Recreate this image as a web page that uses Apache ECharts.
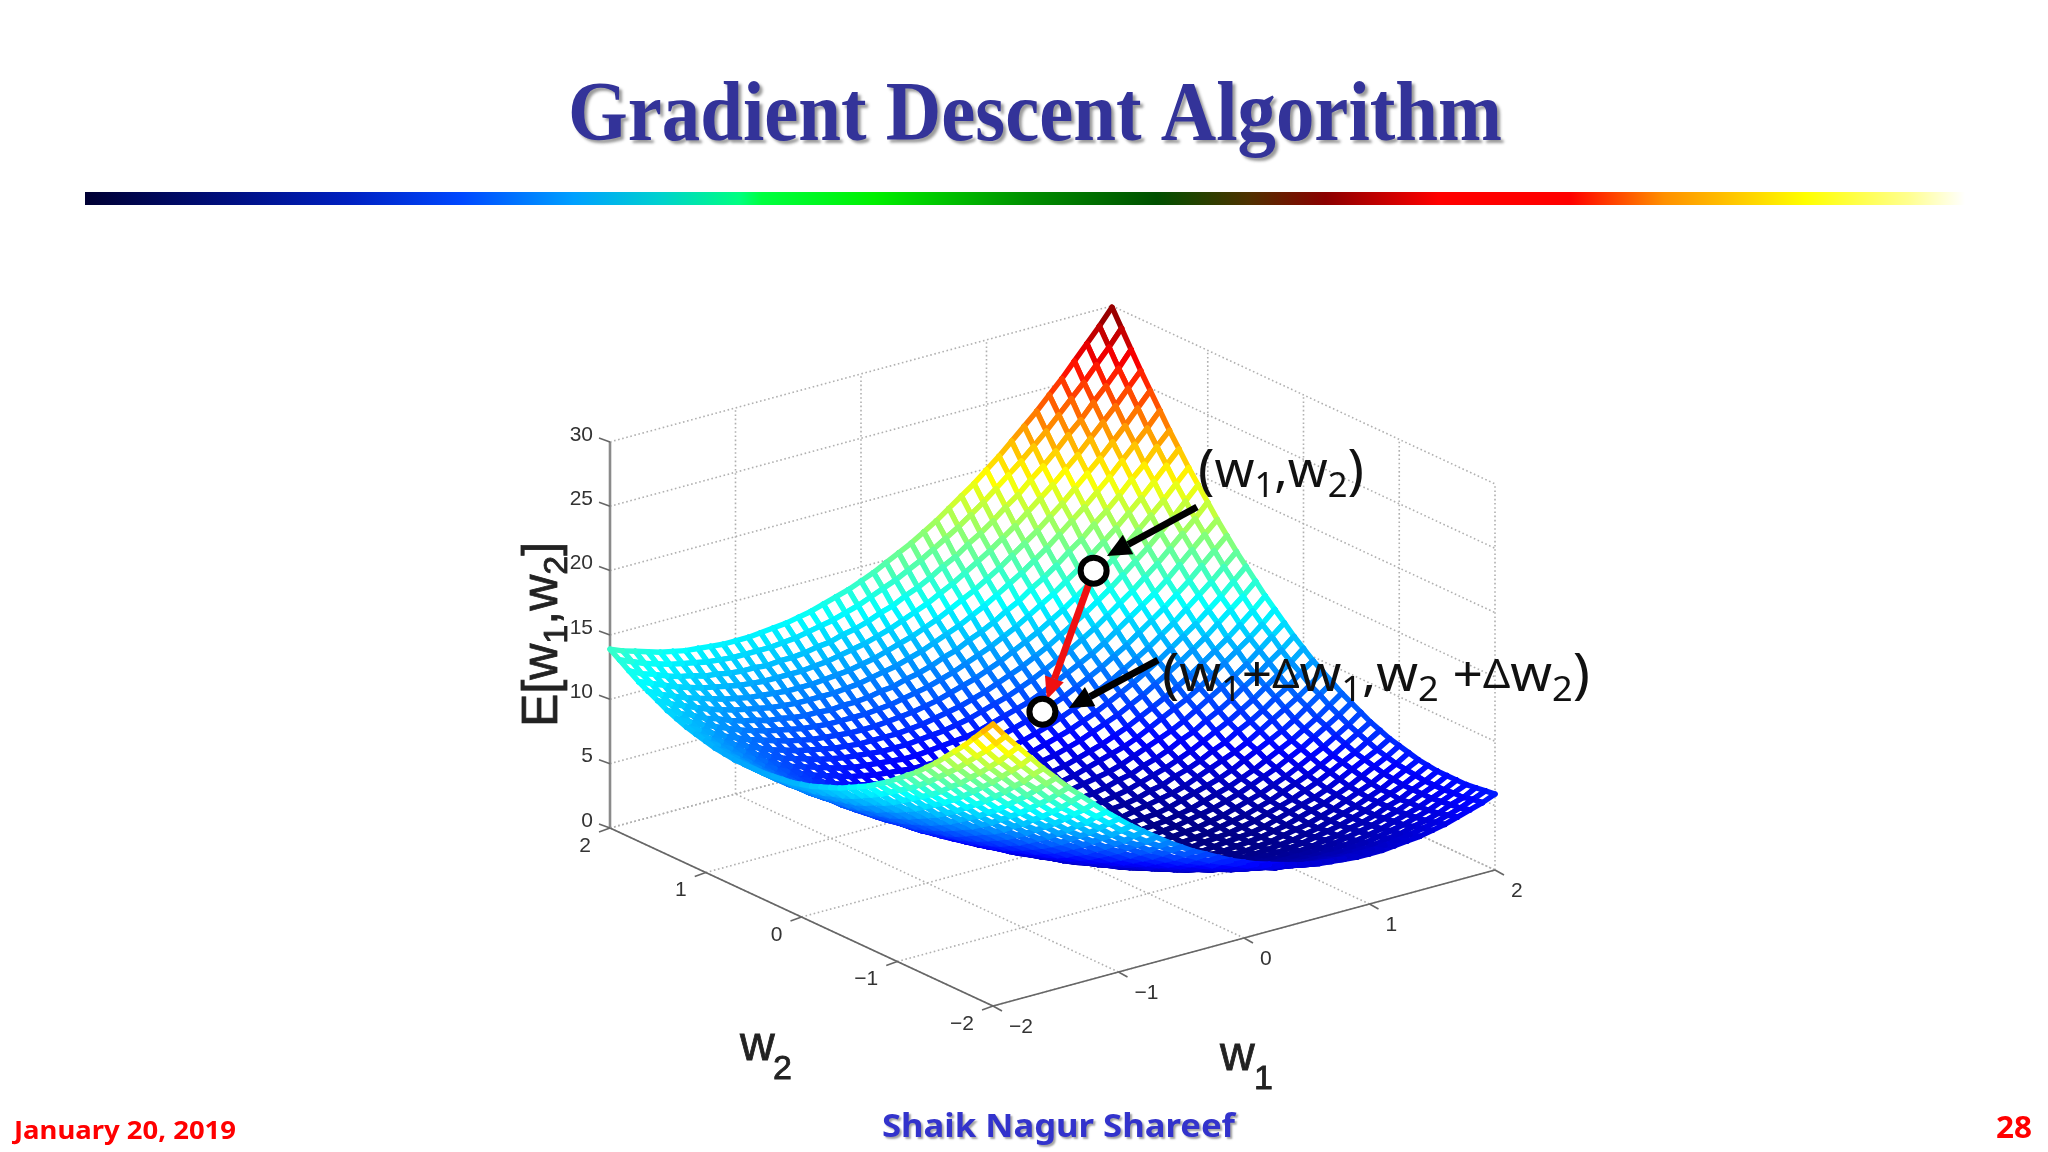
<!DOCTYPE html>
<html><head><meta charset="utf-8">
<script src="https://cdn.jsdelivr.net/npm/echarts@6/dist/echarts.min.js"></script>
<style>html,body{margin:0;padding:0;background:#fff}#c{width:2048px;height:1152px}</style>
</head><body><div id="c"></div>
<script>
const W1=[-2,-1.9,-1.8,-1.7,-1.6,-1.5,-1.4,-1.3,-1.2,-1.1,-1,-0.9,-0.8,-0.7,-0.6,-0.5,-0.4,-0.3,-0.2,-0.1,0,0.1,0.2,0.3,0.4,0.5,0.6,0.7,0.8,0.9,1,1.1,1.2,1.3,1.4,1.5,1.6,1.7,1.8,1.9,2];
const W2=[-2,-1.9,-1.8,-1.7,-1.6,-1.5,-1.4,-1.3,-1.2,-1.1,-1,-0.9,-0.8,-0.7,-0.6,-0.5,-0.4,-0.3,-0.2,-0.1,0,0.1,0.2,0.3,0.4,0.5,0.6,0.7,0.8,0.9,1,1.1,1.2,1.3,1.4,1.5,1.6,1.7,1.8,1.9,2];
const E_VALUES=[
[21.9,21,20.1,19.2,18.4,17.6,16.8,16.1,15.4,14.8,14.2,13.6,13.1,12.6,12.2,11.8,11.4,11.1,10.8,10.5,10.3,10.1,10,9.9,9.8,9.8,9.8,9.8,9.9,10,10.2,10.4,10.6,10.9,11.2,11.6,12,12.4,12.9,13.4,13.9],
[20.7,19.8,18.9,18.1,17.3,16.5,15.8,15.1,14.4,13.8,13.2,12.7,12.2,11.7,11.3,10.9,10.5,10.2,10,9.7,9.5,9.4,9.2,9.2,9.1,9.1,9.1,9.2,9.3,9.4,9.6,9.8,10.1,10.4,10.7,11.1,11.5,12,12.4,13,13.5],
[19.6,18.7,17.8,17,16.2,15.5,14.7,14.1,13.4,12.8,12.3,11.8,11.3,10.8,10.4,10.1,9.7,9.4,9.2,9,8.8,8.6,8.5,8.5,8.4,8.5,8.5,8.6,8.7,8.9,9.1,9.3,9.6,9.9,10.3,10.7,11.1,11.6,12.1,12.6,13.2],
[18.5,17.6,16.8,16,15.2,14.5,13.8,13.1,12.5,11.9,11.4,10.9,10.4,10,9.6,9.3,8.9,8.7,8.4,8.2,8.1,8,7.9,7.8,7.8,7.9,7.9,8,8.2,8.4,8.6,8.8,9.1,9.5,9.8,10.3,10.7,11.2,11.7,12.3,12.9],
[17.4,16.6,15.7,15,14.2,13.5,12.8,12.2,11.6,11,10.5,10,9.6,9.2,8.8,8.5,8.2,8,7.7,7.6,7.4,7.3,7.3,7.2,7.2,7.3,7.4,7.5,7.7,7.9,8.1,8.4,8.7,9.1,9.5,9.9,10.4,10.9,11.4,12,12.6],
[16.4,15.6,14.8,14,13.3,12.6,11.9,11.3,10.7,10.2,9.7,9.2,8.8,8.4,8.1,7.8,7.5,7.3,7.1,6.9,6.8,6.7,6.7,6.7,6.7,6.8,6.9,7,7.2,7.4,7.7,8,8.3,8.7,9.1,9.6,10.1,10.6,11.2,11.8,12.4],
[15.4,14.6,13.8,13.1,12.4,11.7,11.1,10.5,9.9,9.4,8.9,8.5,8.1,7.7,7.4,7.1,6.8,6.6,6.5,6.3,6.2,6.2,6.1,6.2,6.2,6.3,6.4,6.6,6.8,7,7.3,7.6,8,8.4,8.8,9.3,9.8,10.4,10.9,11.6,12.2],
[14.5,13.7,12.9,12.2,11.5,10.9,10.2,9.7,9.1,8.6,8.2,7.8,7.4,7,6.7,6.5,6.2,6,5.9,5.8,5.7,5.6,5.6,5.7,5.7,5.9,6,6.2,6.4,6.7,7,7.3,7.7,8.1,8.6,9.1,9.6,10.2,10.8,11.4,12.1],
[13.6,12.8,12.1,11.4,10.7,10.1,9.5,8.9,8.4,7.9,7.5,7.1,6.7,6.4,6.1,5.9,5.6,5.5,5.3,5.2,5.2,5.2,5.2,5.2,5.3,5.5,5.6,5.8,6.1,6.4,6.7,7,7.4,7.9,8.3,8.9,9.4,10,10.6,11.3,12],
[12.7,12,11.2,10.6,9.9,9.3,8.7,8.2,7.7,7.2,6.8,6.4,6.1,5.8,5.5,5.3,5.1,5,4.8,4.8,4.7,4.7,4.8,4.8,4.9,5.1,5.3,5.5,5.8,6.1,6.4,6.8,7.2,7.7,8.2,8.7,9.3,9.9,10.5,11.2,11.9],
[11.9,11.2,10.5,9.8,9.2,8.6,8,7.5,7,6.6,6.2,5.8,5.5,5.2,5,4.8,4.6,4.5,4.4,4.3,4.3,4.3,4.4,4.5,4.6,4.8,5,5.2,5.5,5.8,6.2,6.6,7,7.5,8,8.6,9.2,9.8,10.5,11.2,11.9],
[11.1,10.4,9.7,9.1,8.5,7.9,7.4,6.9,6.4,6,5.6,5.3,5,4.7,4.5,4.3,4.1,4,4,3.9,3.9,4,4,4.2,4.3,4.5,4.7,5,5.3,5.6,6,6.4,6.9,7.4,7.9,8.5,9.1,9.8,10.4,11.2,11.9],
[10.4,9.7,9,8.4,7.8,7.3,6.7,6.3,5.8,5.4,5.1,4.8,4.5,4.2,4,3.9,3.7,3.6,3.6,3.6,3.6,3.6,3.7,3.9,4,4.3,4.5,4.8,5.1,5.5,5.9,6.3,6.8,7.3,7.9,8.5,9.1,9.8,10.5,11.2,12],
[9.7,9,8.4,7.8,7.2,6.7,6.2,5.7,5.3,4.9,4.6,4.3,4,3.8,3.6,3.5,3.3,3.3,3.2,3.2,3.3,3.4,3.5,3.6,3.8,4.1,4.3,4.6,5,5.4,5.8,6.2,6.7,7.3,7.8,8.5,9.1,9.8,10.5,11.3,12.1],
[9,8.4,7.7,7.2,6.6,6.1,5.6,5.2,4.8,4.4,4.1,3.8,3.6,3.4,3.2,3.1,3,3,2.9,3,3,3.1,3.3,3.4,3.6,3.9,4.2,4.5,4.9,5.3,5.7,6.2,6.7,7.3,7.9,8.5,9.2,9.9,10.6,11.4,12.2],
[8.4,7.8,7.2,6.6,6.1,5.6,5.1,4.7,4.3,4,3.7,3.4,3.2,3,2.9,2.8,2.7,2.7,2.7,2.7,2.8,2.9,3.1,3.3,3.5,3.8,4.1,4.4,4.8,5.2,5.7,6.2,6.7,7.3,7.9,8.6,9.3,10,10.8,11.6,12.4],
[7.8,7.2,6.6,6.1,5.6,5.1,4.7,4.3,3.9,3.6,3.3,3.1,2.9,2.7,2.6,2.5,2.4,2.4,2.5,2.5,2.6,2.8,2.9,3.2,3.4,3.7,4,4.4,4.8,5.2,5.7,6.2,6.8,7.4,8,8.7,9.4,10.2,10.9,11.8,12.6],
[7.3,6.7,6.1,5.6,5.1,4.7,4.2,3.9,3.5,3.2,3,2.8,2.6,2.4,2.3,2.3,2.2,2.2,2.3,2.4,2.5,2.6,2.8,3.1,3.3,3.7,4,4.4,4.8,5.3,5.8,6.3,6.9,7.5,8.2,8.9,9.6,10.4,11.2,12,12.9],
[6.8,6.2,5.7,5.2,4.7,4.3,3.9,3.5,3.2,2.9,2.7,2.5,2.3,2.2,2.1,2.1,2,2.1,2.1,2.2,2.4,2.6,2.8,3,3.3,3.7,4,4.4,4.9,5.4,5.9,6.4,7,7.7,8.3,9.1,9.8,10.6,11.4,12.3,13.2],
[6.3,5.8,5.2,4.8,4.3,3.9,3.5,3.2,2.9,2.6,2.4,2.2,2.1,2,1.9,1.9,1.9,2,2,2.2,2.3,2.5,2.8,3,3.3,3.7,4.1,4.5,5,5.5,6,6.6,7.2,7.9,8.6,9.3,10.1,10.9,11.7,12.6,13.5],
[5.9,5.4,4.9,4.4,4,3.6,3.2,2.9,2.6,2.4,2.2,2,1.9,1.8,1.8,1.8,1.8,1.9,2,2.1,2.3,2.5,2.8,3.1,3.4,3.8,4.2,4.6,5.1,5.6,6.2,6.8,7.4,8.1,8.8,9.6,10.4,11.2,12.1,13,13.9],
[5.5,5,4.5,4.1,3.7,3.3,3,2.7,2.4,2.2,2,1.9,1.8,1.7,1.7,1.7,1.7,1.8,2,2.1,2.3,2.6,2.8,3.2,3.5,3.9,4.3,4.8,5.3,5.8,6.4,7,7.7,8.4,9.1,9.9,10.7,11.6,12.4,13.4,14.3],
[5.2,4.7,4.2,3.8,3.4,3.1,2.7,2.5,2.2,2,1.9,1.8,1.7,1.6,1.6,1.7,1.7,1.8,2,2.2,2.4,2.6,2.9,3.3,3.6,4.1,4.5,5,5.5,6.1,6.7,7.3,8,8.7,9.5,10.3,11.1,12,12.9,13.8,14.8],
[4.9,4.4,4,3.6,3.2,2.9,2.6,2.3,2.1,1.9,1.8,1.7,1.6,1.6,1.6,1.7,1.7,1.9,2,2.2,2.5,2.8,3.1,3.4,3.8,4.3,4.7,5.2,5.8,6.4,7,7.6,8.3,9.1,9.8,10.7,11.5,12.4,13.3,14.3,15.3],
[4.6,4.2,3.7,3.4,3,2.7,2.4,2.2,2,1.8,1.7,1.6,1.6,1.6,1.6,1.7,1.8,2,2.1,2.4,2.6,2.9,3.3,3.6,4,4.5,5,5.5,6.1,6.7,7.3,8,8.7,9.5,10.3,11.1,12,12.9,13.8,14.8,15.8],
[4.4,4,3.6,3.2,2.9,2.6,2.3,2.1,1.9,1.8,1.7,1.6,1.6,1.6,1.7,1.8,1.9,2.1,2.3,2.5,2.8,3.1,3.5,3.9,4.3,4.8,5.3,5.8,6.4,7,7.7,8.4,9.1,9.9,10.7,11.6,12.5,13.4,14.4,15.4,16.4],
[4.2,3.8,3.4,3.1,2.8,2.5,2.3,2.1,1.9,1.8,1.7,1.7,1.7,1.7,1.8,1.9,2,2.2,2.5,2.7,3,3.4,3.7,4.2,4.6,5.1,5.6,6.2,6.8,7.4,8.1,8.8,9.6,10.4,11.2,12.1,13,14,14.9,16,17],
[4.1,3.7,3.3,3,2.7,2.5,2.2,2.1,1.9,1.8,1.8,1.8,1.8,1.8,1.9,2.1,2.2,2.4,2.7,3,3.3,3.6,4,4.5,4.9,5.5,6,6.6,7.2,7.9,8.6,9.3,10.1,10.9,11.8,12.7,13.6,14.6,15.6,16.6,17.7],
[4,3.6,3.3,3,2.7,2.5,2.3,2.1,2,1.9,1.9,1.9,1.9,2,2.1,2.3,2.4,2.7,2.9,3.2,3.6,4,4.4,4.8,5.3,5.9,6.4,7,7.7,8.4,9.1,9.8,10.6,11.5,12.3,13.3,14.2,15.2,16.2,17.3,18.4],
[3.9,3.6,3.2,3,2.7,2.5,2.3,2.2,2.1,2,2,2,2.1,2.2,2.3,2.5,2.7,3,3.2,3.6,3.9,4.3,4.8,5.2,5.7,6.3,6.9,7.5,8.2,8.9,9.6,10.4,11.2,12.1,13,13.9,14.9,15.9,16.9,18,19.1],
[3.9,3.6,3.3,3,2.8,2.6,2.4,2.3,2.2,2.2,2.2,2.2,2.3,2.4,2.6,2.8,3,3.3,3.6,3.9,4.3,4.7,5.2,5.7,6.2,6.8,7.4,8,8.7,9.4,10.2,11,11.8,12.7,13.6,14.6,15.6,16.6,17.7,18.8,19.9],
[3.9,3.6,3.3,3.1,2.9,2.7,2.6,2.5,2.4,2.4,2.4,2.5,2.6,2.7,2.9,3.1,3.3,3.6,4,4.3,4.7,5.2,5.6,6.2,6.7,7.3,7.9,8.6,9.3,10,10.8,11.6,12.5,13.4,14.3,15.3,16.3,17.4,18.4,19.6,20.7],
[4,3.7,3.4,3.2,3,2.9,2.7,2.7,2.6,2.6,2.7,2.8,2.9,3,3.2,3.5,3.7,4,4.4,4.8,5.2,5.6,6.1,6.7,7.2,7.9,8.5,9.2,9.9,10.7,11.5,12.3,13.2,14.1,15.1,16.1,17.1,18.2,19.3,20.4,21.6],
[4.1,3.8,3.6,3.4,3.2,3.1,3,2.9,2.9,2.9,3,3.1,3.2,3.4,3.6,3.9,4.1,4.5,4.8,5.2,5.7,6.2,6.7,7.2,7.8,8.5,9.1,9.8,10.6,11.4,12.2,13,13.9,14.9,15.8,16.9,17.9,19,20.1,21.3,22.5],
[4.2,4,3.7,3.6,3.4,3.3,3.2,3.2,3.2,3.2,3.3,3.4,3.6,3.8,4,4.3,4.6,5,5.3,5.8,6.2,6.7,7.3,7.8,8.4,9.1,9.8,10.5,11.3,12.1,12.9,13.8,14.7,15.7,16.7,17.7,18.8,19.9,21,22.2,23.4],
[4.4,4.2,4,3.8,3.7,3.6,3.5,3.5,3.5,3.6,3.7,3.8,4,4.2,4.5,4.8,5.1,5.5,5.9,6.3,6.8,7.3,7.9,8.5,9.1,9.8,10.5,11.2,12,12.8,13.7,14.6,15.5,16.5,17.5,18.6,19.7,20.8,22,23.2,24.4],
[4.6,4.4,4.2,4.1,4,3.9,3.9,3.9,3.9,4,4.1,4.3,4.5,4.7,5,5.3,5.6,6,6.5,6.9,7.4,8,8.5,9.2,9.8,10.5,11.2,12,12.8,13.6,14.5,15.4,16.4,17.4,18.4,19.5,20.6,21.8,22.9,24.2,25.4],
[4.9,4.7,4.5,4.4,4.3,4.3,4.2,4.3,4.3,4.4,4.6,4.8,5,5.2,5.5,5.9,6.2,6.6,7.1,7.6,8.1,8.6,9.2,9.9,10.5,11.3,12,12.8,13.6,14.5,15.4,16.3,17.3,18.3,19.4,20.5,21.6,22.8,24,25.2,26.5],
[5.2,5,4.9,4.8,4.7,4.7,4.7,4.7,4.8,4.9,5.1,5.3,5.5,5.8,6.1,6.5,6.8,7.3,7.7,8.2,8.8,9.4,10,10.6,11.3,12.1,12.8,13.6,14.5,15.4,16.3,17.2,18.2,19.3,20.3,21.5,22.6,23.8,25,26.3,27.6],
[5.5,5.4,5.2,5.2,5.1,5.1,5.1,5.2,5.3,5.4,5.6,5.8,6.1,6.4,6.7,7.1,7.5,8,8.4,9,9.5,10.1,10.8,11.4,12.1,12.9,13.7,14.5,15.4,16.3,17.2,18.2,19.2,20.3,21.4,22.5,23.7,24.9,26.1,27.4,28.7],
[5.9,5.8,5.7,5.6,5.6,5.6,5.6,5.7,5.8,6,6.2,6.4,6.7,7,7.4,7.8,8.2,8.7,9.2,9.7,10.3,10.9,11.6,12.3,13,13.8,14.6,15.4,16.3,17.2,18.2,19.2,20.2,21.3,22.4,23.6,24.8,26,27.3,28.6,29.9]];
const W_TICKS=[-2,-1,0,1,2];
const E_TICKS=[0,5,10,15,20,25,30];
const STEP_START=[1.27,1.235,14.0];
const STEP_END=[0.53,0.8,6.5];

function project(a,b,e){return [993+125.5*(a+2)-95.75*(b+2),1006-34*(a+2)-44.5*(b+2)-12.87*e];}
function jet(v){const t=Math.max(0,Math.min(1,(v-1.6)/28.4));
 const f=x=>Math.round(255*Math.max(0,Math.min(1,1.5-Math.abs(4*t-x))));
 return 'rgb('+f(3)+','+f(2)+','+f(1)+')';}
const cv=document.createElement('canvas').getContext('2d');
function tw(s,size,fam,wt){cv.font=(wt||'normal')+' '+size+'px '+fam;return cv.measureText(s).width;}
function run(x,y,parts,o){o=o||{};const fam=o.fam||'"Liberation Sans"',fill=o.fill||'#111',wt=o.wt||'normal';let cx=0;
 const ch=parts.map(p=>{const w=tw(p[0],p[1],fam,wt);
  const t={type:'text',x:cx,y:p[2]||0,style:Object.assign({text:p[0],fontSize:p[1],fontFamily:fam,fontWeight:wt,fill:fill,align:'left',verticalAlign:'middle'},o.style||{})};
  cx+=w+(p[3]||0);return t;});
 const sx=o.fit?o.fit/cx:1;
 return {type:'group',x:x,y:y,rotation:o.rot||0,scaleX:sx,children:ch};}
function arrow(x0,y0,x1,y1,color,w,hl,hw){const d=Math.hypot(x1-x0,y1-y0),ux=(x1-x0)/d,uy=(y1-y0)/d,bx=x1-ux*hl,by=y1-uy*hl;
 return [{type:'line',shape:{x1:x0,y1:y0,x2:bx,y2:by},style:{stroke:color,lineWidth:w}},
 {type:'polygon',shape:{points:[[x1,y1],[bx-uy*hw,by+ux*hw],[bx+uy*hw,by-ux*hw]]},style:{fill:color}}];}
function lift(el){el.z=100;el.zlevel=1;if(el.children)el.children.forEach(lift);return el;}

const cells=[];for(let i=W1.length-2;i>=0;i--)for(let j=W2.length-2;j>=0;j--)cells.push([i,j]);
const frame=[];
W_TICKS.forEach(t=>{frame.push([t,-2,0,t,2,0],[-2,t,0,2,t,0],[t,2,0,t,2,30],[2,t,0,2,t,30]);});
E_TICKS.forEach(t=>{frame.push([-2,2,t,2,2,t],[2,2,t,2,-2,t]);});
const axes=[[-2,2,0,-2,-2,0],[-2,-2,0,2,-2,0],[-2,2,0,-2,2,30]];
const tickW2=W_TICKS.map(t=>[-2,t,0]),tickW1=W_TICKS.map(t=>[t,-2,0]),tickE=E_TICKS.map(t=>[-2,2,t]);
const fmt=v=>v<0?'\u2212'+(-v):''+v;
function lineEl(p,q,style){return {type:'line',shape:{x1:p[0],y1:p[1],x2:q[0],y2:q[1]},style:style};}
const heavy={stroke:'#222',lineWidth:0.8};

const overlay=[
 {type:'rect',shape:{x:85,y:192,width:1880,height:13},style:{fill:{type:'linear',x:0,y:0,x2:1,y2:0,colorStops:[
  {offset:0,color:'#000033'},{offset:.077,color:'#000f80'},{offset:.14,color:'#0020c0'},{offset:.2,color:'#0048ff'},{offset:.26,color:'#00a0ff'},{offset:.305,color:'#00d0d0'},{offset:.305,color:'#00d0d0'},{offset:.348,color:'#00ff80'},{offset:.36,color:'#00ff40'},{offset:.42,color:'#00f000'},{offset:.5,color:'#009000'},{offset:.57,color:'#005000'},{offset:.62,color:'#503000'},{offset:.66,color:'#8b0000'},{offset:.72,color:'#ff0000'},{offset:.79,color:'#ff0000'},{offset:.84,color:'#ff9000'},{offset:.915,color:'#ffff00'},{offset:.97,color:'#ffff90'},{offset:1,color:'#ffffff'}]}}},
 run(568,118,[['Gradient Descent Algorithm',84]],{fam:'"Liberation Serif"',wt:'bold',fill:'#333399',fit:934,style:{textShadowColor:'rgba(70,70,70,.55)',textShadowBlur:3,textShadowOffsetX:3,textShadowOffsetY:3}}),
 run(14,1132,[['January 20, 2019',25]],{fam:'"Noto Sans"',wt:'bold',fill:'#ff0000',fit:222}),
 run(882,1128,[['Shaik Nagur Shareef',32]],{fam:'"Noto Sans"',wt:'bold',fill:'#3333cc',fit:353,style:{textShadowColor:'rgba(70,70,70,.5)',textShadowBlur:2,textShadowOffsetX:2,textShadowOffsetY:2}}),
 run(1996,1129,[['28',30]],{fam:'"Noto Sans"',wt:'bold',fill:'#ff0000',fit:36}),
 run(543,727,[['E[w',50],['1',34,15],[',',50],['w',50],['2',34,15],[']',50]],{rot:Math.PI/2,fill:'#222',style:heavy}),
 run(740,1047,[['w',48]],{fill:'#222',style:heavy}),run(773,1070,[['2',34]],{fill:'#222',style:heavy}),
 run(1220,1057,[['w',48]],{fill:'#222',style:heavy}),run(1254,1080,[['1',34]],{fill:'#222',style:heavy}),
 run(1198,473,[['(',54],['w',50],['1',34,14],[',',50],['w',50],['2',34,14],[')',54]],{fam:'"Noto Sans"',fit:166}),
 run(1162,677,[['(',54],['w',50],['1',34,14],['+',50],['\u0394',40],['w',50],['1',34,14],[',',50],['w',50],['2',34,14],[' +',50],['\u0394',40],['w',50],['2',34,14],[')',54]],{fam:'"Noto Sans"',fit:428}),
 {type:'group',children:arrow(1197,507,1107,556,'#000',7,24,11)},
 {type:'group',children:arrow(1158,660,1069,708,'#000',7,24,11)}
].map(lift);

const option={animation:false,backgroundColor:'#fff',
grid:{left:0,right:0,top:0,bottom:0},
xAxis:{type:'value',min:0,max:2048,show:false},
yAxis:{type:'value',min:0,max:1152,inverse:true,show:false},
graphic:{elements:overlay},
series:[
{type:'custom',name:'frame',silent:true,clip:false,data:frame,renderItem:(p,api)=>{
 const v=[0,1,2,3,4,5].map(k=>api.value(k));
 return lineEl(api.coord(project(v[0],v[1],v[2])),api.coord(project(v[3],v[4],v[5])),{stroke:'#b0b0b0',lineWidth:1.6,lineDash:[1.6,2.6]});}},
{type:'custom',name:'axes',silent:true,clip:false,data:axes,renderItem:(p,api)=>{
 const v=[0,1,2,3,4,5].map(k=>api.value(k));
 return lineEl(api.coord(project(v[0],v[1],v[2])),api.coord(project(v[3],v[4],v[5])),{stroke:p.dataIndex==2?'#8a8a8a':'#666',lineWidth:p.dataIndex==2?2.6:1.8});}},
{type:'custom',name:'w2ticks',silent:true,clip:false,data:tickW2,renderItem:(p,api)=>{
 const c=api.coord(project(api.value(0),api.value(1),0));
 return {type:'group',children:[lineEl(c,[c[0]-11,c[1]+4],{stroke:'#666',lineWidth:1.6}),
 {type:'text',style:{text:fmt(api.value(1)),x:c[0]-19,y:c[1]+18,align:'right',verticalAlign:'middle',fontSize:21,fontFamily:'"Liberation Sans"',fill:'#333'}}]};}},
{type:'custom',name:'w1ticks',silent:true,clip:false,data:tickW1,renderItem:(p,api)=>{
 const c=api.coord(project(api.value(0),-2,0));
 return {type:'group',children:[lineEl(c,[c[0]+9,c[1]+5],{stroke:'#666',lineWidth:1.6}),
 {type:'text',style:{text:fmt(api.value(0)),x:c[0]+16,y:c[1]+21,align:'left',verticalAlign:'middle',fontSize:21,fontFamily:'"Liberation Sans"',fill:'#333'}}]};}},
{type:'custom',name:'eticks',silent:true,clip:false,data:tickE,renderItem:(p,api)=>{
 const c=api.coord(project(-2,2,api.value(2)));
 return {type:'group',children:[lineEl(c,[c[0]-11,c[1]-4],{stroke:'#666',lineWidth:1.6}),
 {type:'text',style:{text:''+api.value(2),x:c[0]-17,y:c[1]-7,align:'right',verticalAlign:'middle',fontSize:21,fontFamily:'"Liberation Sans"',fill:'#333'}}]};}},
{type:'custom',name:'surface',silent:true,clip:false,progressive:0,data:cells,renderItem:(p,api)=>{
 const i=api.value(0),j=api.value(1);
 const idx=[[i,j],[i+1,j],[i+1,j+1],[i,j+1]];
 const pts=idx.map(q=>api.coord(project(W1[q[0]],W2[q[1]],E_VALUES[q[0]][q[1]])));
 const vals=idx.map(q=>E_VALUES[q[0]][q[1]]);
 const ch=[{type:'polygon',shape:{points:pts},style:{fill:'#fff'}}];
 for(let k=0;k<4;k++){const n=(k+1)%4;ch.push(lineEl(pts[k],pts[n],{stroke:jet((vals[k]+vals[n])/2),lineWidth:5.4,lineCap:'round'}));}
 return {type:'group',children:ch};}},
{type:'custom',name:'step',silent:true,clip:false,z:5,data:[[...STEP_START,...STEP_END]],renderItem:(p,api)=>{
 const a=api.coord(project(api.value(0),api.value(1),api.value(2))),b=api.coord(project(api.value(3),api.value(4),api.value(5)));
 const d=Math.hypot(b[0]-a[0],b[1]-a[1]),ux=(b[0]-a[0])/d,uy=(b[1]-a[1])/d;
 return {type:'group',children:arrow(a[0],a[1],b[0]-ux*13,b[1]-uy*13,'#f01010',7,22,10)};}},
{type:'scatter',name:'points',silent:true,z:6,symbol:'circle',symbolSize:26,itemStyle:{color:'#fff',borderColor:'#000',borderWidth:6,opacity:1},
 data:[project(...STEP_START),project(...STEP_END)]}
]};
echarts.init(document.getElementById('c')).setOption(option);
</script></body></html>
